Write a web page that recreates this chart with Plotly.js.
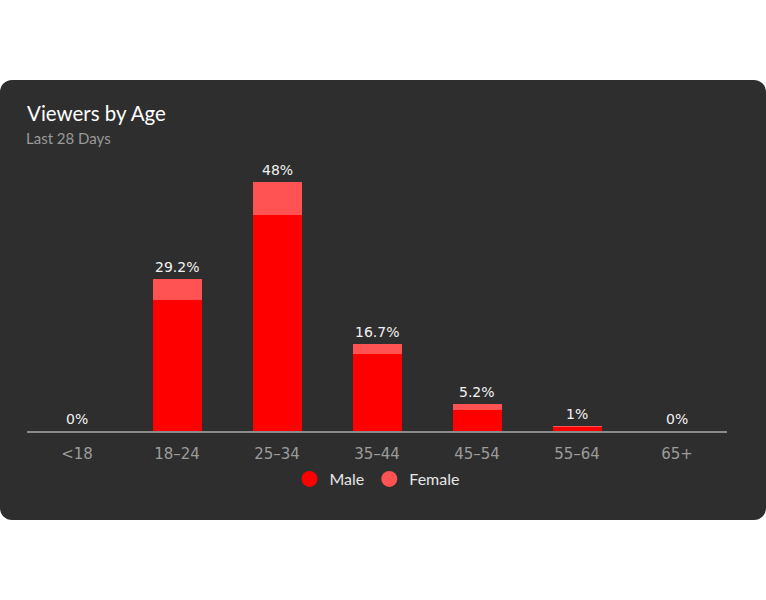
<!DOCTYPE html>
<html>
<head>
<meta charset="utf-8">
<script src="https://cdn.plot.ly/plotly-3.0.1.min.js"></script>
<style>
  html, body { margin: 0; padding: 0; background: #ffffff; }
  #card {
    position: absolute; left: 0; top: 80px; width: 766px; height: 440px;
    background: #2e2e2e; border-radius: 12px;
  }
  #chart { position: absolute; left: 0; top: 0; width: 766px; height: 600px; }
</style>
</head>
<body>
<div id="card"></div>
<div id="chart"></div>
<script>
var ageGroups = ["<18", "18–24", "25–34", "35–44", "45–54", "55–64", "65+"];
var maleShare = [0, 25.2, 41.6, 14.8, 4.1, 0.8, 0];
var femaleShare = [0, 4.0, 6.4, 1.9, 1.1, 0.2, 0];

var maleColor = "#ff0000";
var femaleColor = "#ff5252";

function fmt(v) {
    var r = Math.round(v * 10) / 10;
    return r + "%";
}

var traces = [
    {
        x: ageGroups, y: maleShare, type: "bar", name: "Male",
        marker: { color: maleColor }, showlegend: false, hoverinfo: "skip"
    },
    {
        x: ageGroups, y: femaleShare, type: "bar", name: "Female",
        marker: { color: femaleColor }, showlegend: false, hoverinfo: "skip"
    },
    // legend only entries, drawn as round dots (no visible points)
    {
        x: [ageGroups[0]], y: [null], type: "scatter", mode: "markers", name: "Male",
        marker: { color: maleColor, size: 17, symbol: "circle" }
    },
    {
        x: [ageGroups[0]], y: [null], type: "scatter", mode: "markers", name: "Female",
        marker: { color: femaleColor, size: 17, symbol: "circle" }
    }
];

var annotations = [];
for (var i = 0; i < ageGroups.length; i++) {
    var total = maleShare[i] + femaleShare[i];
    annotations.push({
        x: ageGroups[i], y: total, xref: "x", yref: "y",
        text: fmt(total), showarrow: false, yanchor: "bottom", yshift: 2,
        font: { family: "DejaVu Sans", size: 14, color: "#f2f2f2" }
    });
}
annotations.push({
    text: "Last 28 Days", xref: "paper", yref: "paper",
    x: 0, y: 1.1226, xanchor: "left", yanchor: "middle", showarrow: false,
    xshift: -3,
    font: { family: "Lato", size: 15, color: "#9a9a9a" }
});

var layout = {
    width: 766,
    height: 600,
    paper_bgcolor: "rgba(0,0,0,0)",
    plot_bgcolor: "rgba(0,0,0,0)",
    margin: { l: 27, r: 39, t: 170, b: 169 },
    title: {
        text: "Viewers by Age",
        x: 0, xref: "paper", xanchor: "left", xpad: 0,
        y: 0.811, yref: "container", yanchor: "middle",
        font: { family: "Lato", size: 20.5, color: "#ffffff" }
    },
    barmode: "stack",
    bargap: 0.51,
    xaxis: {
        type: "category",
        showgrid: false,
        zeroline: false,
        showline: true,
        linecolor: "#8a8a8a",
        linewidth: 2,
        ticks: "",
        ticklabelstandoff: 8,
        tickfont: { family: "DejaVu Sans", size: 15, color: "#9c9c9c" },
        fixedrange: true
    },
    yaxis: {
        range: [0, 50.3],
        visible: false,
        showgrid: false,
        zeroline: false,
        fixedrange: true
    },
    showlegend: true,
    legend: {
        orientation: "h",
        traceorder: "normal",
        x: 0.5, xanchor: "center",
        y: -0.184, yanchor: "middle",
        font: { family: "Lato", size: 16, color: "#e6e6e6" },
        itemwidth: 30,
        bgcolor: "rgba(0,0,0,0)"
    },
    annotations: annotations
};

Plotly.newPlot("chart", traces, layout, { displayModeBar: false, staticPlot: true });
</script>
</body>
</html>
